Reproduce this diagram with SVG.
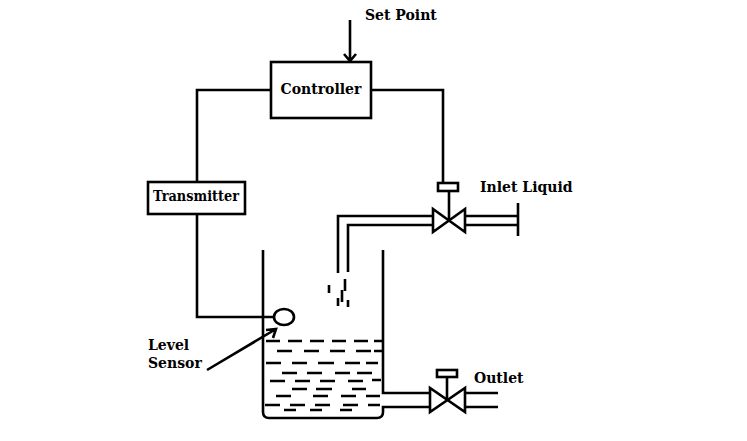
<svg xmlns="http://www.w3.org/2000/svg" width="747" height="441" viewBox="0 0 747 441">
<style>
.l{fill:none;stroke:#000;stroke-width:2.6}
.t{font-family:"DejaVu Serif",serif;font-weight:bold;font-size:14px;fill:#000}
</style>
<rect width="747" height="441" fill="#fff"/>
<g id="connectors" class="l">
<path d="M350 20V61M344 54l6 7 6-7"/>
<path d="M271 90H197V182"/>
<path d="M371 90H443V183"/>
<path d="M197 214V317H273"/>
<path d="M207 370L276 329M266 330l10-1-3 9"/>
</g>
<g id="controller"><rect class="l" x="271" y="62" width="100" height="56"/><text class="t" x="321" y="94" text-anchor="middle">Controller</text></g>
<g id="transmitter"><rect class="l" x="148" y="182" width="97" height="32"/><text class="t" x="196" y="201" text-anchor="middle" font-size="11" textLength="86" lengthAdjust="spacingAndGlyphs">Transmitter</text></g>
<g id="setpoint"><text class="t" x="365" y="20">Set Point</text></g>
<g id="inlet" class="l">
<path d="M338 273V216H433M348 272V225H433"/>
<path d="M433 209V232L465 209V232Z"/>
<path d="M465 216H518M465 225H518M518 203V236"/>
<path d="M449 191V220"/><rect x="438" y="183" width="20" height="8"/>
<path d="M329 285v8M345 279v12M342 290v12M338 298v8M348 300v7"/>
</g>
<g id="inlet-label"><text class="t" x="480" y="192">Inlet Liquid</text></g>
<g id="tank" class="l">
<path d="M263 250V412Q263 418 269 418H377Q383 418 383 412V407H430M383 250V393H430"/>
<path d="M430 388V412L465 388V412Z"/>
<path d="M465 393H498M465 407H498"/>
<path d="M447 377V400"/><rect x="437" y="370" width="20" height="7"/>
</g>
<g id="liquid" class="l">
<path d="M266 341h14M288 341h14M310 341h14M332 341h14M354 341h14M374 341h8"/>
<path d="M277 351h15M304 351h15M330 351h15M356 351h15M374 351h8"/>
<path d="M266 363h15M292 363h15M318 363h16M345 363h15M366 363h12"/>
<path d="M282 373h15M307 373h15M335 373h15M357 373h15"/>
<path d="M270 381h15M295 381h15M320 381h15M348 381h15M372 380h9"/>
<path d="M292 389h15M316 389h16M352 389h14"/>
<path d="M276 396h15M313 396h15M341 396h15M366 396h14"/>
<path d="M265 405h15M290 405h15M315 405h15M343 405h15M368 405h12"/>
<path d="M284 410h12M310 410h12M340 410h12"/>
</g>
<g id="float"><ellipse class="l" cx="284" cy="317" rx="10" ry="8"/></g>
<g id="sensor-label"><text class="t" x="148" y="350">Level</text><text class="t" x="148" y="368">Sensor</text></g>
<g id="outlet-label"><text class="t" x="474" y="383">Outlet</text></g>
</svg>
